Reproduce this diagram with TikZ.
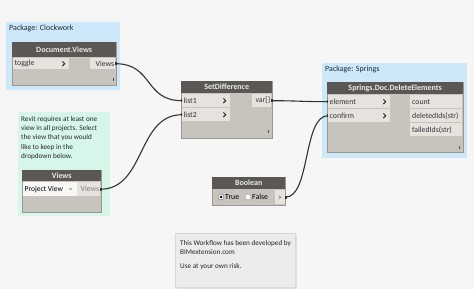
\documentclass[tikz,border=0pt]{standalone}
\usepackage{fontspec}
\setmainfont{Carlito}
\definecolor{bg}{HTML}{F6F6F6}
\definecolor{grpblue}{HTML}{CDE9F9}
\definecolor{grpgreen}{HTML}{D5F6E8}
\definecolor{hdr}{HTML}{5A5754}
\definecolor{body}{HTML}{C7C3BD}
\definecolor{portc}{HTML}{E6E3DF}
\definecolor{nodeedge}{HTML}{9C9891}
\definecolor{wire}{HTML}{333333}
\definecolor{notec}{HTML}{ECECEC}
\definecolor{ttl}{HTML}{1E2B38}
\tikzset{
  grp/.style={fill=#1, draw=none, anchor=north west, inner sep=0pt},
  nbody/.style={fill=body, draw=nodeedge, line width=0.4pt, anchor=north west, inner sep=0pt},
  nhdr/.style={fill=hdr, draw=none, anchor=north west, inner sep=0pt, text=white!92!black, font=\bfseries\fontsize{8}{9}\selectfont},
  port/.style={fill=portc, draw=none, anchor=north west, inner sep=0pt},
  ptxt/.style={anchor=west, inner sep=0pt, text=black!80, font=\fontsize{7.8}{9}\selectfont},
  chevl/.style={draw=black!85, line width=1pt},
  gtitle/.style={anchor=west, inner sep=0pt, text=ttl, font=\fontsize{8}{9}\selectfont},
  wirel/.style={draw=wire, line width=1.1pt},
  nub/.style={fill=wire, draw=none},
  imark/.style={draw=black!70, line width=0.5pt},
}
\newcommand\chevat[1]{\draw[chevl] ([xshift=-7,yshift=2.3]#1) -- ++(2.3,2.3) -- ++(-2.3,2.3);}
\begin{document}
\begin{tikzpicture}[x=1pt,y=-1pt]
\fill[bg] (0,0) rectangle (474,289);
\useasboundingbox (0,0) rectangle (474,289);

% ---------- groups
\node[grp=grpblue, minimum width=114, minimum height=68] (gClock) at (6,22) {};
\node[gtitle] (gClockT) at (9,28) {Package: Clockwork};
\node[grp=grpgreen, minimum width=92, minimum height=104] (gGreen) at (18,112) {};
\node[anchor=north west, inner sep=0pt, align=left, text=black!85, font=\fontsize{7.2}{9.3}\selectfont] (gGreenT) at (21,116)
  {Revit requires at least one\\view in all projects. Select\\the view that you would\\like to keep in the\\dropdown below.};
\node[grp=grpblue, minimum width=145, minimum height=95] (gSpr) at (322,63) {};
\node[gtitle] (gSprT) at (325,69) {Package: Springs};

% ---------- Document.Views
\node[nbody, minimum width=104, minimum height=43] (dv) at (12,42) {};
\node[nhdr, minimum width=104, minimum height=15] (dvH) at (12,42) {Document.Views};
\node[port, minimum width=56, minimum height=11] (dvIn) at (13,58) {};
\node[ptxt] at ([xshift=1.5]dvIn.west) {toggle};
\chevat{dvIn.east}
\node[port, minimum width=25, minimum height=11] (dvOut) at (90,58) {};
\node[ptxt, anchor=east] at ([xshift=-1]dvOut.east) {Views};
\draw[imark] (113,78) -- (113,81);

% ---------- Views
\node[nbody, minimum width=79, minimum height=42] (vw) at (22,170) {};
\node[nhdr, minimum width=79, minimum height=11] (vwH) at (22,170) {Views};
\node[port, minimum width=54, minimum height=14, fill=white!70!portc] (vwIn) at (23,182) {};
\node[ptxt, text=black, font=\fontsize{7.5}{9}\selectfont] at ([xshift=1.5]vwIn.west) {Project View};
\draw[black!60, line width=0.5pt] ([xshift=-8,yshift=0.8]vwIn.east) -- ++(1.2,1.2) -- ++(1.2,-1.2);
\node[port, minimum width=23, minimum height=14] (vwOut) at (77,182) {};
\node[ptxt, anchor=east, text=black!50] at ([xshift=-1]vwOut.east) {Views};

% ---------- SetDifference
\node[nbody, minimum width=91, minimum height=57] (sd) at (181,81) {};
\node[nhdr, minimum width=91, minimum height=12] (sdH) at (181,81) {SetDifference};
\node[port, minimum width=48, minimum height=13] (sdL1) at (182,94) {};
\node[ptxt] at ([xshift=1.5]sdL1.west) {list1};
\chevat{sdL1.east}
\node[port, minimum width=48, minimum height=13] (sdL2) at (182,108) {};
\node[ptxt] at ([xshift=1.5]sdL2.west) {list2};
\chevat{sdL2.east}
\node[port, minimum width=19, minimum height=13] (sdOut) at (252,94) {};
\node[ptxt, anchor=east] at ([xshift=-1]sdOut.east) {var[]};
\draw[imark] (268,130) -- (268,133);

% ---------- Springs.Doc.DeleteElements
\node[nbody, minimum width=136, minimum height=70] (sp) at (327,82) {};
\node[nhdr, minimum width=136, minimum height=12] (spH) at (327,82) {Springs.Doc.DeleteElements};
\node[port, minimum width=62, minimum height=13] (spEl) at (328,95) {};
\node[ptxt] at ([xshift=1.5]spEl.west) {element};
\chevat{spEl.east}
\node[port, minimum width=62, minimum height=13] (spCf) at (328,109) {};
\node[ptxt] at ([xshift=1.5]spCf.west) {confirm};
\chevat{spCf.east}
\node[port, minimum width=52, minimum height=13] (spO1) at (410,95) {};
\node[ptxt] at ([xshift=2]spO1.west) {count};
\node[port, minimum width=52, minimum height=13] (spO2) at (410,109) {};
\node[ptxt] at ([xshift=2]spO2.west) {deletedIds(str)};
\node[port, minimum width=52, minimum height=13] (spO3) at (410,123) {};
\node[ptxt] at ([xshift=2]spO3.west) {failedIds(str)};
\draw[imark] (459,146) -- (459,149);

% ---------- Boolean
\node[nbody, minimum width=73, minimum height=28] (bo) at (212,177) {};
\node[nhdr, minimum width=73, minimum height=12] (boH) at (212,177) {Boolean};
\draw[fill=white, draw=black!60, line width=0.4pt] (221,197) circle (3);
\fill[black] (221,197) circle (1.5);
\node[ptxt, text=black] at (225,197) {True};
\draw[fill=white, draw=black!40, line width=0.4pt] (248,197) circle (3);
\node[ptxt, text=black] at (252,197) {False};
\node[port, minimum width=10, minimum height=14] (boOut) at (275,190) {};
\draw[black!60, line width=0.5pt] ([xshift=-1.5,yshift=1.5]boOut.center) -- ++(2,1.5) -- ++(-2,1.5);

% ---------- Note
\fill[black!12] (176.5,234.5) rectangle (296.5,288.5);
\node[anchor=north west, fill=notec, draw=black!15, line width=0.4pt, minimum width=120, minimum height=54, inner sep=0pt] (note) at (175,233) {};
\node[anchor=north west, inner sep=0pt, align=left, text=black!85, font=\fontsize{7.2}{8.5}\selectfont] (noteT) at (180,240.5)
  {This Workflow has been developed by\\BIMextension.com\\[6pt]Use at your own risk.};

% ---------- wires
\draw[wirel] (dvOut.east) .. controls +(38,0) and +(-38,0) .. (sdL1.west);
\draw[wirel] (vwOut.east) .. controls +(45,0) and +(-45,0) .. (sdL2.west);
\draw[wirel] (sdOut.east) .. controls +(25,0) and +(-25,0) .. (spEl.west);
\draw[wirel] (boOut.east) .. controls +(25,0) and +(-25,0) .. (spCf.west);
\foreach \p in {dvOut.east, vwOut.east, sdOut.east, boOut.east}
  \fill[nub] ([yshift=-1.5]\p) rectangle ([xshift=1.5,yshift=1.5]\p);
\foreach \p in {sdL1.west, sdL2.west, spEl.west, spCf.west}
  \fill[nub] ([xshift=-1.5,yshift=-1.5]\p) rectangle ([yshift=1.5]\p);
\end{tikzpicture}
\end{document}
